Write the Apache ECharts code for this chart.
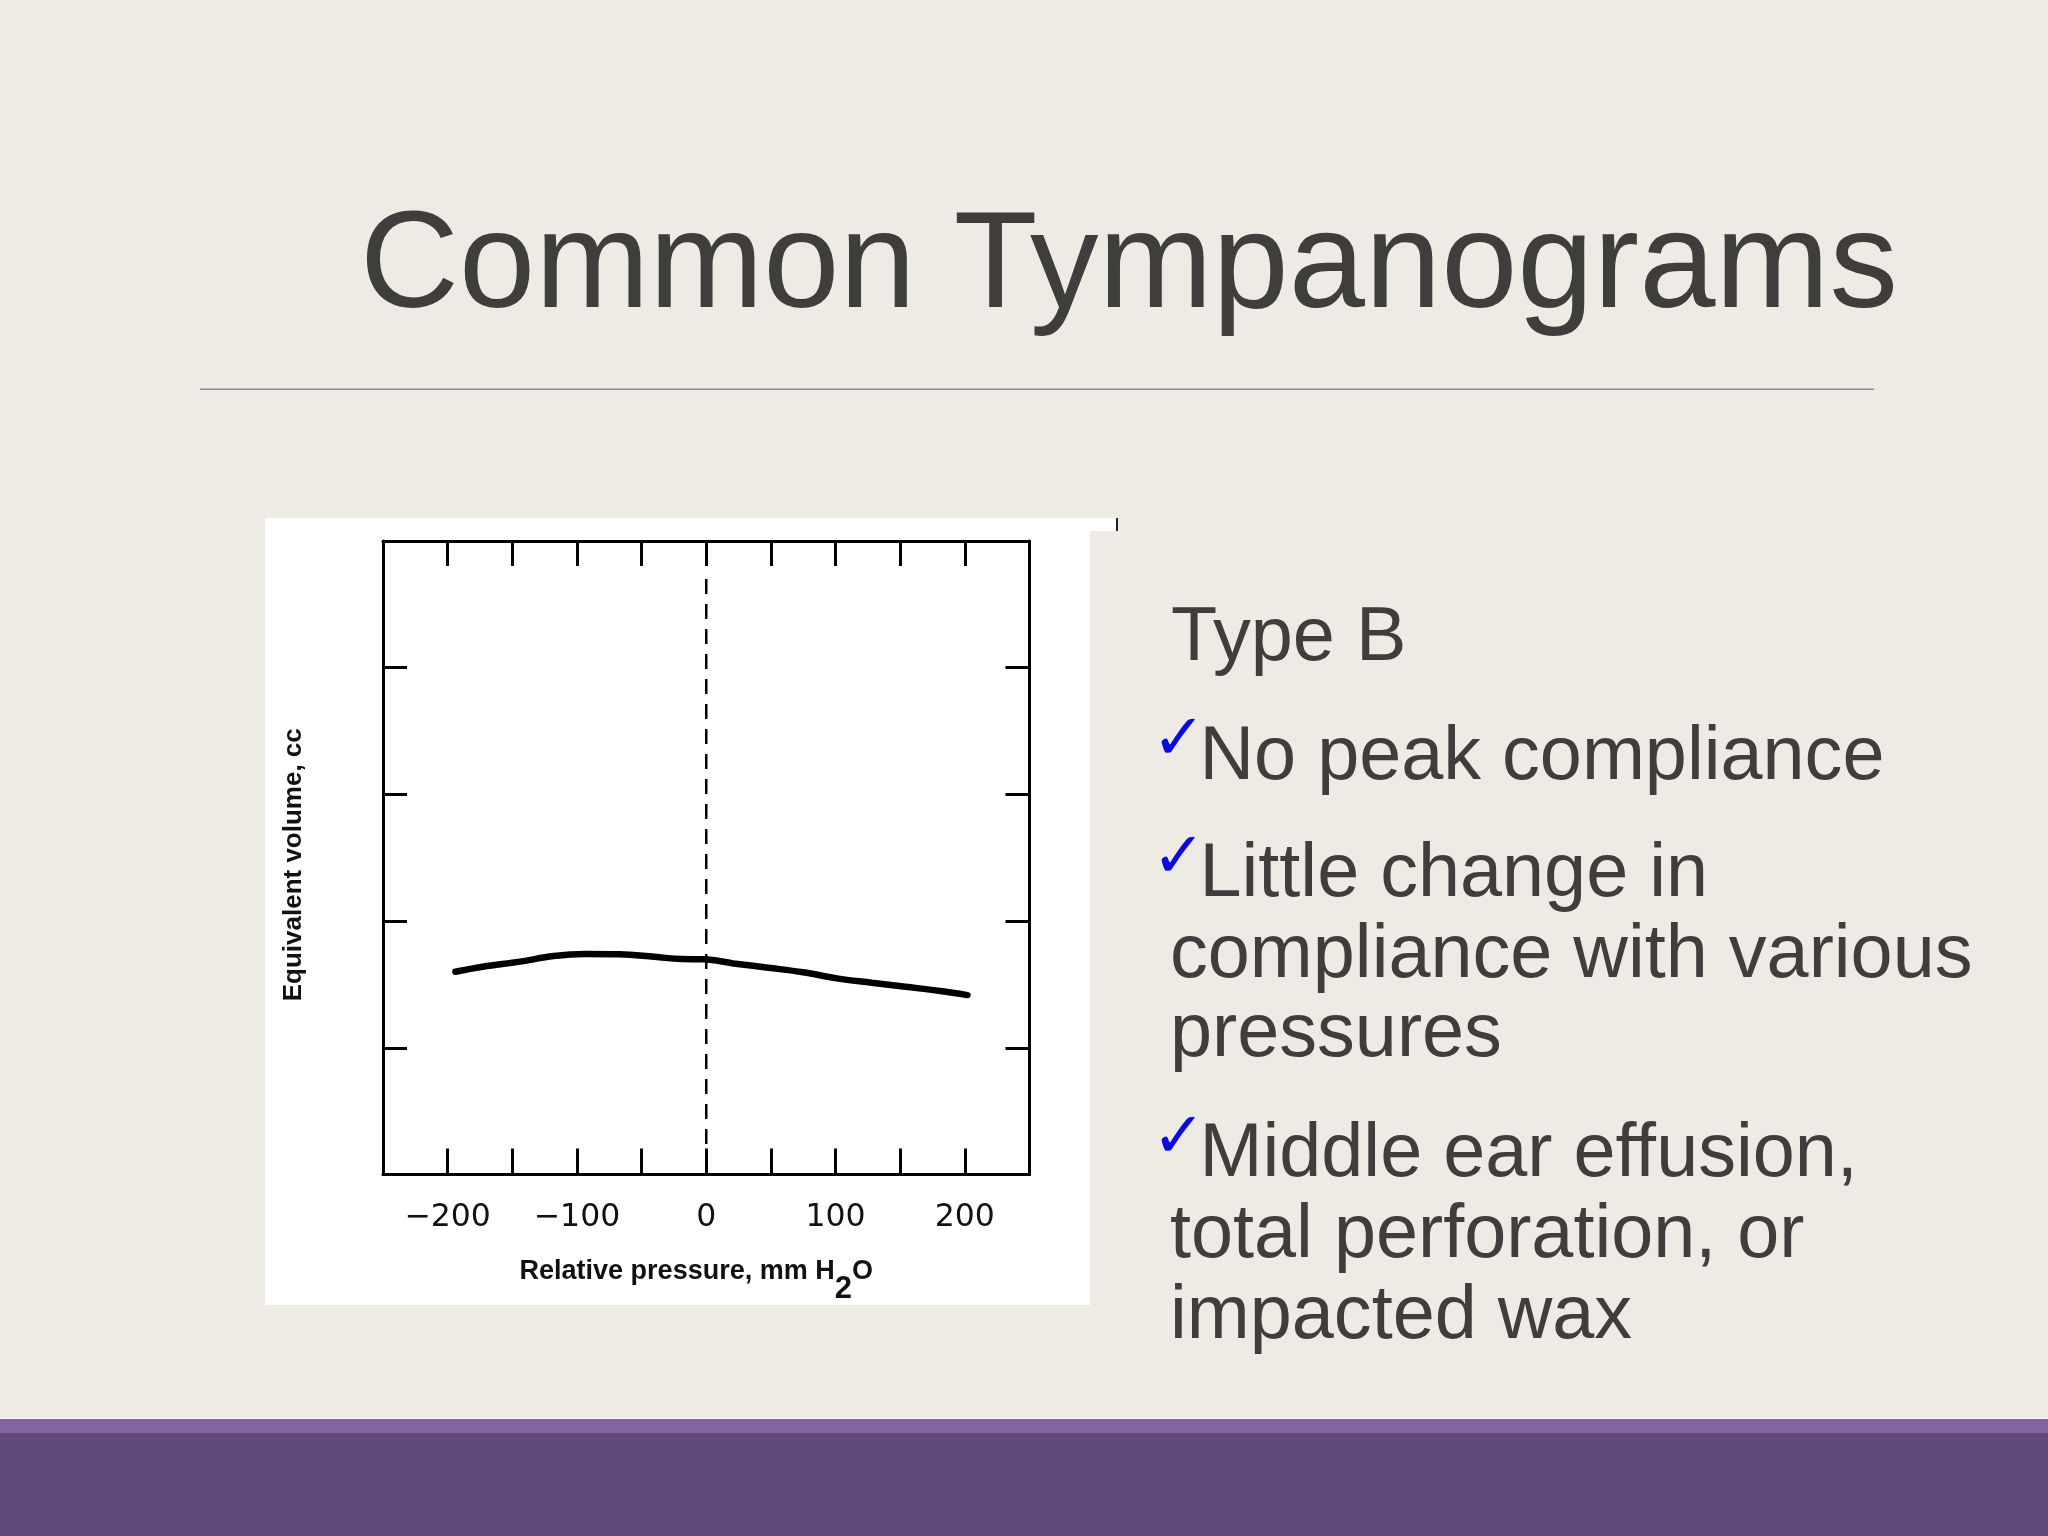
<!DOCTYPE html>
<html>
<head>
<meta charset="utf-8">
<script src="https://cdn.jsdelivr.net/npm/echarts@6/dist/echarts.min.js"></script>
<style>
html, body { margin: 0; padding: 0; background: #eeebe4; }
#chart { width: 2048px; height: 1536px; }
</style>
</head>
<body>
<div id="chart"></div>
<script>
// ---------- data ----------
const slideTitle = 'Common Tympanograms';
const sideTextLines = [
  'Type B',
  'No peak compliance',
  'Little change in',
  'compliance with various',
  'pressures',
  'Middle ear effusion,',
  'total perforation, or',
  'impacted wax'
];
const checkMark = '\u2713';
const checkedLines = [1, 2, 5];

const pressure = [-194, -173, -144, -118, -94, -67, -40, -19, -2, 21, 48, 75, 101, 128, 154, 181, 202];
const volume   = [0.800, 0.820, 0.840, 0.862, 0.870, 0.869, 0.859, 0.850, 0.849, 0.833, 0.816, 0.798, 0.774, 0.757, 0.741, 0.724, 0.708];

const refLinePressure = [0, 0];
const refLineVolume = [2.35, 0.12];

const xTickValues = [-200, -100, 0, 100, 200];
const xTickLabels = ['\u2212200', '\u2212100', '0', '100', '200'];
const xAxisTitleMain = 'Relative pressure, mm H';
const xAxisTitleSub = '2';
const xAxisTitleEnd = 'O';
const yAxisTitle = 'Equivalent volume, cc';

// ---------- layout / style ----------
const textColor = '#3f3e3c';
const slideFont = "'Liberation Sans', Arial, sans-serif";
const figFont = "'DejaVu Sans', sans-serif";
const nameFont = "'Liberation Sans', Arial, sans-serif";

const sideBaselines = [661, 780.4, 897.8, 978.4, 1057.4, 1177.3, 1258, 1339];
const sideX = [1171, 1199.5, 1199.5, 1170, 1170, 1199.5, 1170, 1170];
const checkCenters = [742, 860, 1140];
const sideFontSize = 75.6;
const midOffset = 0.295;

const graphics = [];
// figure white panel
graphics.push({ type: 'rect', z: -10, shape: { x: 265, y: 518, width: 825, height: 787 }, style: { fill: '#ffffff' } });
graphics.push({ type: 'rect', z: -10, shape: { x: 1090, y: 518, width: 27, height: 13 }, style: { fill: '#ffffff' } });
graphics.push({ type: 'rect', z: -9, shape: { x: 1116, y: 518, width: 2, height: 13 }, style: { fill: '#222222' } });
// title rule
graphics.push({ type: 'rect', z: -10, shape: { x: 200, y: 388.5, width: 1674, height: 1.5 }, style: { fill: '#8f8d89' } });
// bottom bars
graphics.push({ type: 'rect', z: -10, shape: { x: 0, y: 1418, width: 2048, height: 1 }, style: { fill: '#f9f8f4' } });
graphics.push({ type: 'rect', z: -10, shape: { x: 0, y: 1419, width: 2048, height: 14 }, style: { fill: '#8264a0' } });
graphics.push({ type: 'rect', z: -10, shape: { x: 0, y: 1433, width: 2048, height: 103 }, style: { fill: '#614a7b' } });
// title
graphics.push({
  type: 'text', x: 360, y: 310 - midOffset * 137,
  style: { text: slideTitle, fontSize: 137, fontFamily: slideFont, fill: textColor, align: 'left', verticalAlign: 'middle' }
});
// side text
sideTextLines.forEach((t, i) => {
  graphics.push({
    type: 'text', x: sideX[i], y: sideBaselines[i] - midOffset * sideFontSize,
    style: { text: t, fontSize: sideFontSize, fontFamily: slideFont, fill: textColor, align: 'left', verticalAlign: 'middle' }
  });
});
checkedLines.forEach((li, k) => {
  graphics.push({
    type: 'text', x: 1152, y: checkCenters[k],
    style: { text: checkMark, fontSize: 64, fontWeight: 'bold', fontFamily: figFont, fill: '#0b0be0', align: 'left', verticalAlign: 'middle' }
  });
});

const frameLine = { show: true, onZero: false, lineStyle: { color: '#000', width: 3 } };

const option = {
  animation: false,
  backgroundColor: '#eeebe4',
  grid: { left: 383, top: 541, right: 1018.5, bottom: 361.5, show: false },
  xAxis: [
    {
      type: 'value', position: 'bottom', min: -250, max: 250, interval: 50,
      axisLine: frameLine,
      axisTick: { show: true, inside: true, length: 26, lineStyle: { color: '#000', width: 3 } },
      splitLine: { show: false },
      axisLabel: {
        show: true, margin: 28, fontSize: 31.5, lineHeight: 30, fontFamily: figFont, color: '#111',
        formatter: v => { const i = xTickValues.indexOf(v); return i >= 0 ? xTickLabels[i] : ''; }
      },
      name: '{a|' + xAxisTitleMain + '}{s|' + xAxisTitleSub + '}{a|' + xAxisTitleEnd + '}',
      nameLocation: 'middle', nameGap: 64,
      nameTextStyle: {
        padding: [0, 20, 0, 0],
        rich: {
          a: { fontSize: 27, fontWeight: 'bold', fontFamily: nameFont, color: '#111' },
          s: { fontSize: 31, fontWeight: 'bold', fontFamily: nameFont, color: '#111', padding: [35, 0, 0, 0] }
        }
      }
    },
    {
      type: 'value', position: 'top', min: -250, max: 250, interval: 50,
      axisLine: frameLine,
      axisTick: { show: true, inside: true, length: 25, lineStyle: { color: '#000', width: 3 } },
      splitLine: { show: false }, axisLabel: { show: false }
    }
  ],
  yAxis: [
    {
      type: 'value', position: 'left', min: 0, max: 2.5, interval: 0.5,
      axisLine: frameLine,
      axisTick: { show: true, inside: true, length: 24, lineStyle: { color: '#000', width: 3 } },
      splitLine: { show: false }, axisLabel: { show: false },
      name: yAxisTitle, nameLocation: 'middle', nameGap: 75,
      nameTextStyle: { fontSize: 26, fontWeight: 'bold', fontFamily: nameFont, color: '#111', lineHeight: 28, padding: [0, 14, 0, 0] }
    },
    {
      type: 'value', position: 'right', min: 0, max: 2.5, interval: 0.5,
      axisLine: frameLine,
      axisTick: { show: true, inside: true, length: 24, lineStyle: { color: '#000', width: 3 } },
      splitLine: { show: false }, axisLabel: { show: false }
    }
  ],
  series: [
    {
      type: 'line', xAxisIndex: 0, yAxisIndex: 0,
      data: pressure.map((p, i) => [p, volume[i]]),
      smooth: 0.4, symbol: 'none',
      lineStyle: { color: '#000', width: 6.5, cap: 'round' }, z: 3
    },
    {
      type: 'line', xAxisIndex: 0, yAxisIndex: 0,
      data: refLinePressure.map((p, i) => [p, refLineVolume[i]]),
      symbol: 'none',
      lineStyle: { color: '#000', width: 2.5, type: [15, 10] }, z: 2
    }
  ],
  graphic: { elements: graphics }
};

const chart = echarts.init(document.getElementById('chart'), null, { renderer: 'canvas' });
chart.setOption(option);
</script>
</body>
</html>
